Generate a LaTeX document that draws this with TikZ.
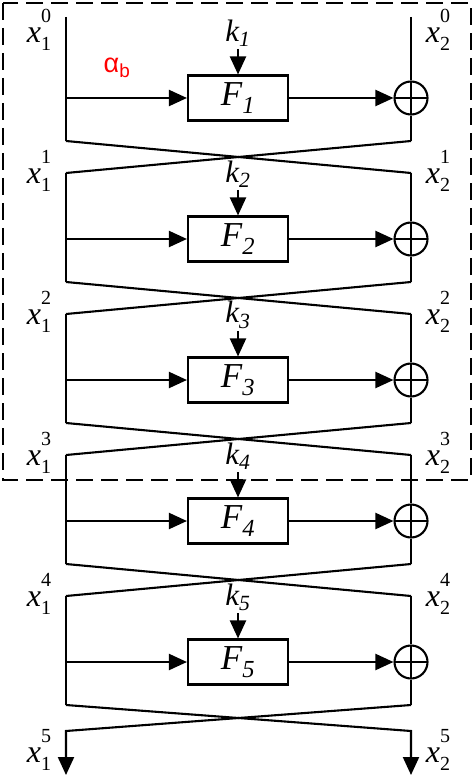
\documentclass[tikz,border=0pt]{standalone}
\usepackage{fontspec}
\setmainfont{Liberation Serif}
\newfontfamily\arialf{Liberation Sans}
\usetikzlibrary{arrows.meta}
\newcommand\xvar[2]{\textit{x}\rlap{\raisebox{0.62em}{\fontsize{20}{20}\selectfont #2}}\raisebox{-0.27em}{\fontsize{20}{20}\selectfont #1}}

\begin{document}
\begin{tikzpicture}[x=1pt,y=-1pt,line width=2.1pt,
    tip/.style={-{Triangle[length=18pt,width=16pt]}},
    fbox/.style={draw,minimum width=100pt,minimum height=45pt,inner sep=0pt,
      font=\fontsize{35}{38}\selectfont\itshape},
    xorc/.style={draw,circle,minimum size=33pt,inner sep=0pt,
      path picture={\draw (path picture bounding box.north) -- (path picture bounding box.south)
        (path picture bounding box.west) -- (path picture bounding box.east);}},
    klab/.style={inner sep=1pt,font=\fontsize{31}{34}\selectfont\itshape},
    xlab/.style={inner sep=0pt,font=\fontsize{32}{36}\selectfont},
    dashbox/.style={line width=2.8pt,dash pattern=on 17pt off 8pt}]
  \useasboundingbox (0,0) rectangle (474,775);

  % frame round the first three rounds
  \draw[dashbox] (3,3) rectangle (471,480);

  \foreach \i [evaluate=\i as \a using 98+141*(\i-1),
               evaluate=\i as \j using int(\i-1)] in {1,...,5} {
    \pgfmathsetmacro\t{ifthenelse(\i==1,17,\a-66)}
    \coordinate (lt-\i) at (66,\t);
    \coordinate (rt-\i) at (411,\t);
    \coordinate (lb-\i) at (66,\a+43);
    \coordinate (rb-\i) at (411,\a+43);
    \coordinate (br-\i) at (66,\a);
    \node[fbox] (F-\i) at (238,\a) {F\textsubscript{\i}};
    \node[klab,anchor=south] (k-\i) at (238,\a-49) {k\textsubscript{\i}};
    \node[xorc] (xor-\i) at (411,\a) {};
    \node[xlab] (xl-\j) at (39,\a-68) {\xvar{1}{\j}};
    \node[xlab] (xr-\j) at (438,\a-68) {\xvar{2}{\j}};

    \draw (lt-\i) -- (lb-\i);
    \draw (rt-\i) -- (xor-\i.north) (xor-\i.south) -- (rb-\i);
    \draw[tip] (br-\i) -- (F-\i);
    \draw[tip] (F-\i) -- (xor-\i);
    \draw[tip] (k-\i) -- (F-\i);
    \ifnum\i>1
      \draw (lb-\j) -- (rt-\i);
      \draw (rb-\j) -- (lt-\i);
    \fi
  }

  % output of the last round
  \coordinate (o1) at (66,731);
  \coordinate (o2) at (411,731);
  \coordinate (e1) at (66,775);
  \coordinate (e2) at (411,775);
  \draw[tip] (rb-5) -- (o1) -- (e1);
  \draw[tip] (lb-5) -- (o2) -- (e2);
  \node[xlab] (xl-5) at (39,750) {\xvar{1}{5}};
  \node[xlab] (xr-5) at (438,750) {\xvar{2}{5}};

  \node[text=red,font=\arialf\fontsize{27}{30}\selectfont] (alpha) at (117,68) {α\textsubscript{b}};
\end{tikzpicture}
\end{document}
